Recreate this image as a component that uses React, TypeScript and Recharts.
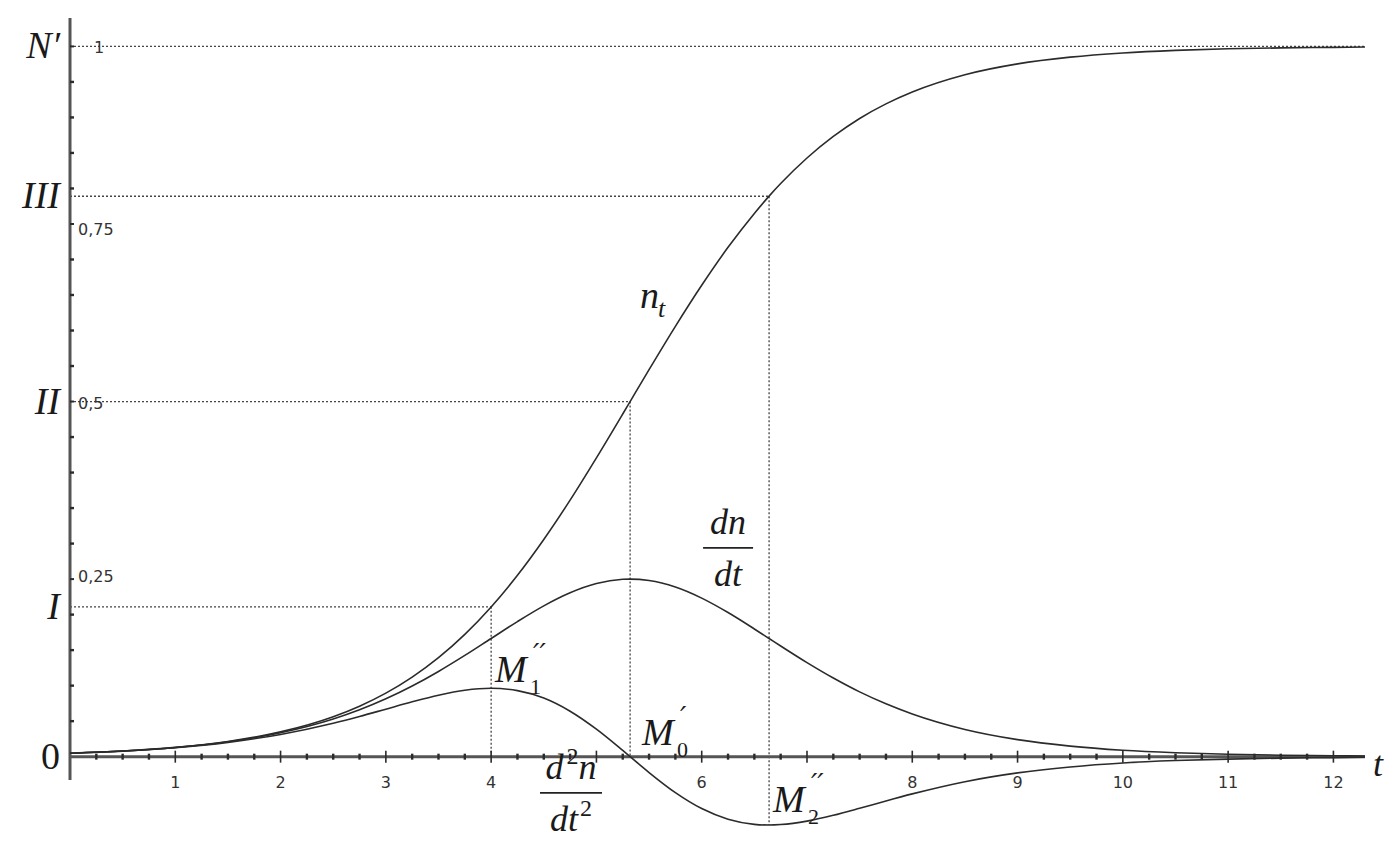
import React from 'react';
import {
  ComposedChart,
  Line,
  XAxis,
  YAxis,
  ReferenceLine,
  ReferenceDot,
  Scatter,
} from 'recharts';

// time samples and the three curves
const tValues = [0, 0.5, 1, 1.5, 2, 2.5, 2.75, 3, 3.25, 3.5, 3.75, 4, 4.25, 4.5, 4.75, 5, 5.25, 5.32, 5.5, 5.75, 6, 6.25, 6.5, 6.64, 6.75, 7, 7.25, 7.5, 7.75, 8, 8.5, 9, 9.5, 10, 10.5, 11, 11.5, 12, 12.3];
const nValues = [0.00487, 0.008, 0.01312, 0.02146, 0.03489, 0.05624, 0.07107, 0.08945, 0.11204, 0.1394, 0.17221, 0.2108, 0.2554, 0.3058, 0.3612, 0.4207, 0.4825, 0.5, 0.5449, 0.6059, 0.6637, 0.7171, 0.7649, 0.7892, 0.8069, 0.8429, 0.8732, 0.8985, 0.9191, 0.9358, 0.9601, 0.9754, 0.9849, 0.9908, 0.9944, 0.9966, 0.9979, 0.9987, 0.9991];
const dnValues = [0.00485, 0.00794, 0.01295, 0.021, 0.03367, 0.05308, 0.06602, 0.08145, 0.09949, 0.12, 0.14255, 0.1664, 0.1902, 0.2123, 0.2307, 0.2437, 0.2497, 0.25, 0.248, 0.2388, 0.2232, 0.2029, 0.1798, 0.1664, 0.1558, 0.1324, 0.1107, 0.0912, 0.0744, 0.0601, 0.0383, 0.024, 0.0149, 0.0091, 0.0056, 0.0034, 0.0021, 0.0013, 0.0009];
const d2nValues = [0.0048, 0.0078, 0.0126, 0.0201, 0.0313, 0.0471, 0.0566, 0.0669, 0.0772, 0.0865, 0.0935, 0.0963, 0.093, 0.0825, 0.064, 0.0387, 0.0087, 0, -0.0223, -0.0506, -0.0731, -0.0881, -0.0953, -0.0963, -0.0956, -0.0908, -0.0826, -0.0727, -0.0623, -0.0524, -0.0352, -0.0228, -0.0145, -0.0089, -0.0055, -0.0034, -0.0021, -0.0013, -0.0009];

// special points: M1'', M0', M2'' and levels I, II, III
const guideT = [4, 5.32, 6.64];
const guideN = [0.211, 0.5, 0.789];
const guideBottom = [0, 0, -0.0963];

const xTickValues = [0.25, 0.5, 0.75, 1, 1.25, 1.5, 1.75, 2, 2.25, 2.5, 2.75, 3, 3.25, 3.5, 3.75, 4, 4.25, 4.5, 4.75, 5, 5.25, 5.5, 5.75, 6, 6.25, 6.5, 6.75, 7, 7.25, 7.5, 7.75, 8, 8.25, 8.5, 8.75, 9, 9.25, 9.5, 9.75, 10, 10.25, 10.5, 10.75, 11, 11.25, 11.5, 11.75, 12];
// 5 and 7 are hidden under the d²n/dt² and M₂'' labels in the original
const xTickLabels = ['1', '2', '3', '4', '', '6', '', '8', '9', '10', '11', '12'];
const yTickValues = [0.05, 0.1, 0.15, 0.2, 0.25, 0.3, 0.35, 0.4, 0.45, 0.5, 0.55, 0.6, 0.65, 0.7, 0.75, 0.8, 0.85, 0.9, 0.95, 1];
const yTickLabels: Record<string, string> = { '0.25': '0,25', '0.5': '0,5', '0.75': '0,75', '1': '1' };
const leftLabels = ['0', 'I', 'II', 'III', "N\u2032"];
const leftLabelValues = [0, 0.211, 0.5, 0.789, 1];

const T_MAX = 12.3;
const INK = '#2b2b2b';
const SERIF = '"Liberation Serif", "DejaVu Serif", serif';
const SANS = '"DejaVu Sans", sans-serif';

const tableData = tValues.map((t, i) => ({
  t,
  n: nValues[i],
  dn: dnValues[i],
  d2n: d2nValues[i],
}));

const xTickData = xTickValues.map((t) => ({ t, v: 0 }));
const yTickData = yTickValues.map((v) => ({ t: 0, v }));

const XTickMark = (props: any) => {
  const { cx, cy, payload } = props;
  const major = Number.isInteger(payload.t);
  const h = major ? 6 : 3;
  const label = major ? xTickLabels[payload.t - 1] : '';
  return (
    <g>
      <line x1={cx} x2={cx} y1={cy - h} y2={cy + h} stroke={INK} strokeWidth={major ? 1.6 : 2.4} />
      {label ? (
        <text x={cx} y={cy + 31} textAnchor="middle" fontFamily={SANS} fontSize={16} fill="#333">
          {label}
        </text>
      ) : null}
    </g>
  );
};

const YTickMark = (props: any) => {
  const { cx, cy, payload } = props;
  const label = yTickLabels[String(payload.v)];
  return (
    <g>
      <line x1={cx - 4} x2={cx + 4} y1={cy} y2={cy} stroke={INK} strokeWidth={label ? 2 : 2.4} />
      {label ? (
        <text x={label === '1' ? cx + 24 : cx + 8} y={cy + (label === '0,75' ? 11 : label === '0,25' ? 3 : 7)} fontFamily={SANS} fontSize={16} fill="#333">
          {label}
        </text>
      ) : null}
    </g>
  );
};

const mathText = { fontFamily: SERIF, fontStyle: 'italic' as const, fill: '#1a1a1a' };

const LabelNt = ({ cx, cy }: any) => (
  <text x={cx} y={cy} fontSize={38} {...mathText}>
    <tspan>n</tspan>
    <tspan dx={-1} dy={9} fontSize={26}>t</tspan>
  </text>
);

const LabelDn = ({ cx, cy }: any) => (
  <g>
    <text x={cx + 25} y={cy - 14} fontSize={36} textAnchor="middle" {...mathText}>dn</text>
    <line x1={cx} x2={cx + 50} y1={cy} y2={cy} stroke="#222" strokeWidth={1.6} />
    <text x={cx + 25} y={cy + 38} fontSize={36} textAnchor="middle" {...mathText}>dt</text>
  </g>
);

const LabelD2n = ({ cx, cy }: any) => (
  <g>
    <text x={cx + 31} y={cy - 14} fontSize={36} textAnchor="middle" {...mathText}>
      <tspan>d</tspan>
      <tspan dx={3} dy={-15} fontSize={24} fontStyle="normal">2</tspan>
      <tspan dx={0} dy={15}>n</tspan>
    </text>
    <line x1={cx} x2={cx + 62} y1={cy} y2={cy} stroke="#222" strokeWidth={1.6} />
    <text x={cx + 31} y={cy + 38} fontSize={36} textAnchor="middle" {...mathText}>
      <tspan>dt</tspan>
      <tspan dx={2} dy={-15} fontSize={24} fontStyle="normal">2</tspan>
    </text>
  </g>
);

// M with primes above and index below, kept clear of each other
const makeM = (sub: string, primes: string) => ({ cx, cy }: any) => (
  <g>
    <text x={cx} y={cy} fontSize={38} {...mathText}>M</text>
    <text x={cx + 38} y={cy - 18} fontSize={28} {...mathText} fontFamily='"DejaVu Serif", serif'>{primes}</text>
    <text x={cx + 35} y={cy + 12} fontSize={22} {...mathText} fontStyle="normal">{sub}</text>
  </g>
);

const LabelT = ({ cx, cy }: any) => (
  <text x={cx + 8} y={cy + 19} fontSize={36} {...mathText}>t</text>
);

const LeftLabel = (text: string) => ({ cx, cy }: any) => (
  <text
    x={cx - 10}
    y={cy + 12}
    textAnchor="end"
    fontSize={38}
    {...mathText}
    fontStyle={text === '0' ? 'normal' : 'italic'}
  >
    {text}
  </text>
);

export default function App() {
  return (
    <div style={{ position: 'absolute', left: 0, top: 0, width: 1400, height: 851, background: '#fff' }}>
      <ComposedChart
        width={1400}
        height={851}
        data={tableData}
        margin={{ top: 18, right: 35, bottom: 2, left: 70 }}
      >
        <XAxis dataKey="t" type="number" domain={[0, T_MAX]} allowDataOverflow hide />
        <YAxis type="number" domain={[-0.13, 1.04]} allowDataOverflow hide />

        {/* dotted guides */}
        <ReferenceLine segment={[{ x: 0, y: 1 }, { x: T_MAX, y: 1 }]} stroke="#444" strokeDasharray="2 2" strokeWidth={1.3} />
        {guideT.map((t, i) => (
          <ReferenceLine
            key={`h-${i}`}
            segment={[{ x: 0, y: guideN[i] }, { x: t, y: guideN[i] }]}
            stroke="#444"
            strokeDasharray="2 2"
            strokeWidth={1.3}
          />
        ))}
        {guideT.map((t, i) => (
          <ReferenceLine
            key={`v-${i}`}
            segment={[{ x: t, y: guideN[i] }, { x: t, y: guideBottom[i] }]}
            stroke="#444"
            strokeDasharray="2 2"
            strokeWidth={1.3}
          />
        ))}

        {/* axes */}
        <ReferenceLine segment={[{ x: 0, y: 0 }, { x: T_MAX, y: 0 }]} stroke="#555" strokeWidth={3} />
        <ReferenceLine segment={[{ x: 0, y: -0.033 }, { x: 0, y: 1.04 }]} stroke="#555" strokeWidth={3} />

        <Line type="monotone" dataKey="n" stroke={INK} strokeWidth={1.6} dot={false} isAnimationActive={false} />
        <Line type="monotone" dataKey="dn" stroke={INK} strokeWidth={1.6} dot={false} isAnimationActive={false} />
        <Line type="monotone" dataKey="d2n" stroke={INK} strokeWidth={1.6} dot={false} isAnimationActive={false} />

        <Scatter data={xTickData} dataKey="v" shape={<XTickMark />} isAnimationActive={false} />
        <Scatter data={yTickData} dataKey="v" shape={<YTickMark />} isAnimationActive={false} />

        {leftLabels.map((txt, i) => (
          <ReferenceDot key={`l-${i}`} x={0} y={leftLabelValues[i]} r={0} shape={LeftLabel(txt)} ifOverflow="visible" />
        ))}

        <ReferenceDot x={5.414} y={0.632} r={0} shape={LabelNt} />
        <ReferenceDot x={6.013} y={0.294} r={0} shape={LabelDn} />
        <ReferenceDot x={4.037} y={0.105} r={0} shape={makeM('1', '\u2032\u2032')} />
        <ReferenceDot x={5.433} y={0.0165} r={0} shape={makeM('0', '\u2032')} />
        <ReferenceDot x={4.464} y={-0.051} r={0} shape={LabelD2n} />
        <ReferenceDot x={6.677} y={-0.078} r={0} shape={makeM('2', '\u2032\u2032')} />
        <ReferenceDot x={T_MAX} y={0} r={0} shape={LabelT} ifOverflow="visible" />
      </ComposedChart>
    </div>
  );
}
